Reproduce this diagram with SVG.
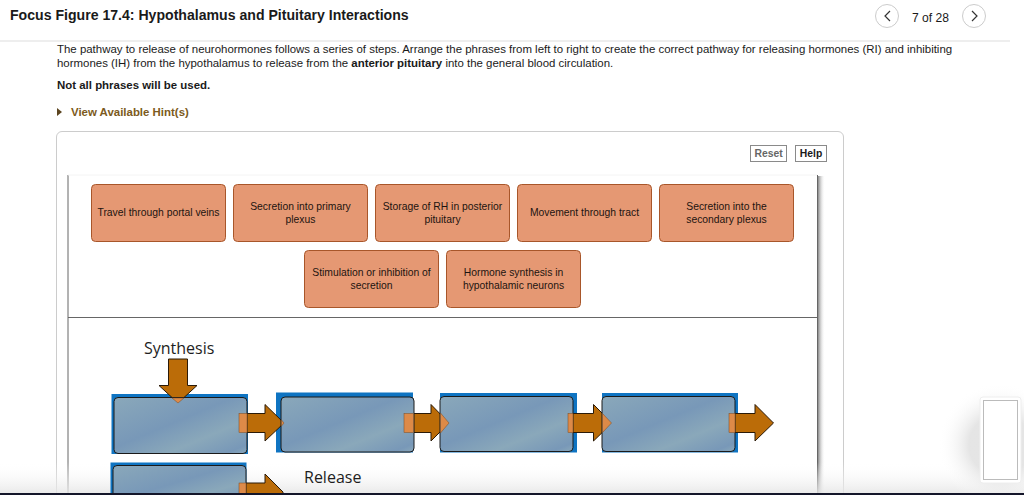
<svg xmlns="http://www.w3.org/2000/svg" width="1024" height="495" viewBox="0 0 1024 495">
<style>
text{font-family:"Liberation Sans",Arial,sans-serif;fill:#1a1a1a}
.b{font-weight:700}
.p{font-size:11.45px}
.c{font-size:10.35px;text-anchor:middle;fill:#1c1410}
.card{fill:#e59873;stroke:#a8562a;stroke-width:1}
.drop{fill:url(#blue);stroke:#1a1a1a;stroke-width:1}
.under{fill:#0f74c2}
.arrow{fill:#bb6c08;stroke:#2a1a08;stroke-width:1}
.tail{fill:#dd8a48;stroke:#7a4a20;stroke-width:.5}
.cal{font-family:"Open Sans","Noto Sans",sans-serif;font-size:16px;fill:#1e1e1e}
.btn{fill:#fff;stroke:#8a8a8a;stroke-width:1}
</style>
<defs>
<linearGradient id="blue" x1="0" y1="0" x2="1" y2="1">
<stop offset="0" stop-color="#8aa8ba"/><stop offset=".45" stop-color="#7898b8"/><stop offset=".7" stop-color="#8aa8ba"/><stop offset=".92" stop-color="#7898b8"/><stop offset="1" stop-color="#8aa8ba"/>
</linearGradient>
<linearGradient id="fade" x1="0" y1="0" x2="0" y2="1"><stop offset="0" stop-color="#fff" stop-opacity="0"/><stop offset="1" stop-color="#e4e4e4" stop-opacity=".9"/></linearGradient>
<radialGradient id="glow" gradientUnits="userSpaceOnUse" cx="1000" cy="445" r="62"><stop offset=".5" stop-color="#e2e2e2" stop-opacity=".9"/><stop offset="1" stop-color="#fff" stop-opacity="0"/></radialGradient>
<linearGradient id="sh" x1="0" y1="0" x2="1" y2="0"><stop offset="0" stop-color="#888"/><stop offset="1" stop-color="#fff" stop-opacity="0"/></linearGradient>
</defs>
<rect width="1024" height="495" fill="#fff"/>
<g id="header">
<text x="10" y="20" class="b" font-size="14.1">Focus Figure 17.4: Hypothalamus and Pituitary Interactions</text>
<circle cx="887" cy="16" r="11.5" fill="#fff" stroke="#ccc"/>
<path d="M890 11l-5 5 5 5" fill="none" stroke="#333" stroke-width="1.2"/>
<text x="912" y="22" font-size="12.1">7 of 28</text>
<circle cx="974" cy="16" r="11.5" fill="#fff" stroke="#ccc"/>
<path d="M972 11l5 5-5 5" fill="none" stroke="#333" stroke-width="1.2"/>
<line x1="0" y1="41" x2="1010" y2="41" stroke="#e8e8e8" stroke-width="1.5"/>
</g>
<g id="instructions">
<text x="57" y="53" class="p">The pathway to release of neurohormones follows a series of steps. Arrange the phrases from left to right to create the correct pathway for releasing hormones (RI) and inhibiting</text>
<text x="57" y="67" class="p">hormones (IH) from the hypothalamus to release from the <tspan class="b">anterior pituitary</tspan> into the general blood circulation.</text>
<text x="57" y="89" class="p b">Not all phrases will be used.</text>
<path d="M57 108l5 4-5 4z" fill="#5c4520"/>
<text x="71" y="116" class="p b" style="fill:#7c5a20">View Available Hint(s)</text>
</g>
<g id="panel">
<path d="M56.500 495V137a5.500 5.500 0 0 1 5.500-5.500H838a5.500 5.500 0 0 1 5.500 5.500V495" fill="#fff" stroke="#ccc"/>
<rect x="818" y="176" width="7" height="319" fill="url(#sh)"/>
<path d="M68 495V175M817.500 175V495" fill="none" stroke="#666"/>
<line x1="68" y1="175" x2="817" y2="175" stroke="#f4f4f4"/>
<line x1="68" y1="317.500" x2="817" y2="317.500" stroke="#666"/>
</g>
<rect x="0" y="462" width="1024" height="33" fill="url(#fade)"/>
<rect x="930" y="380" width="94" height="115" fill="url(#glow)"/>
<g id="reset">
<rect x="750.500" y="145.500" width="36" height="16" class="btn"/>
<text x="768.500" y="157" class="c b" style="fill:#666">Reset</text>
</g>
<g id="help">
<rect x="795.500" y="145.500" width="31" height="16" class="btn"/>
<text x="811" y="157" class="c b" style="fill:#1a1a1a">Help</text>
</g>
<g id="card-travel"><rect x="91.500" y="184.500" width="134" height="57" rx="4" class="card"/><text x="158.500" y="216" class="c">Travel through portal veins</text></g>
<g id="card-primary"><rect x="233.500" y="184.500" width="134" height="57" rx="4" class="card"/><text x="300.500" y="210" class="c">Secretion into primary</text><text x="300.500" y="222.500" class="c">plexus</text></g>
<g id="card-storage"><rect x="375.500" y="184.500" width="134" height="57" rx="4" class="card"/><text x="442.500" y="210" class="c">Storage of RH in posterior</text><text x="442.500" y="222.500" class="c">pituitary</text></g>
<g id="card-movement"><rect x="517.500" y="184.500" width="134" height="57" rx="4" class="card"/><text x="584.500" y="216" class="c">Movement through tract</text></g>
<g id="card-secondary"><rect x="659.500" y="184.500" width="134" height="57" rx="4" class="card"/><text x="726.500" y="210" class="c">Secretion into the</text><text x="726.500" y="222.500" class="c">secondary plexus</text></g>
<g id="card-stimulation"><rect x="304.500" y="250.500" width="134" height="57" rx="4" class="card"/><text x="371.500" y="276" class="c">Stimulation or inhibition of</text><text x="371.500" y="288.500" class="c">secretion</text></g>
<g id="card-synthesis"><rect x="446.500" y="250.500" width="134" height="57" rx="4" class="card"/><text x="513.500" y="276" class="c">Hormone synthesis in</text><text x="513.500" y="288.500" class="c">hypothalamic neurons</text></g>
<g id="label-synthesis"><text x="144" y="353.500" class="cal">Synthesis</text></g>
<g id="label-release"><text x="304" y="482.500" class="cal">Release</text></g>
<g id="drop-highlights">
<rect x="111.500" y="394" width="136.500" height="60" class="under"/>
<rect x="276" y="392.500" width="137" height="60" class="under"/>
<rect x="440" y="393" width="137" height="59.500" class="under"/>
<rect x="602" y="393" width="136" height="59.500" class="under"/>
<rect x="110.500" y="462.500" width="136" height="33" class="under"/>
</g>
<g id="connectors">
<path class="arrow" d="M168.500 359H187.500V385.500H197L178 403L159 385.500H168.500Z"/>
<path class="arrow" d="M239 413.500H265V404.500L284 423L265 441V432.500H239Z"/>
<path class="arrow" d="M404 413.500H431V404.500L449 423L431 441V432.500H404Z"/>
<path class="arrow" d="M568 413.500H593.500V404.500L612 423L593.500 441V432.500H568Z"/>
<path class="arrow" d="M729 413.500H755V404.500L773.500 423L755 441V432.500H729Z"/>
<path class="arrow" d="M239 483H265V474L283 492V495H239Z"/>
</g>
<g id="drop-1"><rect x="114" y="397.500" width="133" height="56" rx="4" class="drop"/></g>
<g id="drop-2"><rect x="281" y="397" width="133" height="55" rx="4" class="drop"/></g>
<g id="drop-3"><rect x="440" y="396.500" width="133" height="55" rx="4" class="drop"/></g>
<g id="drop-4"><rect x="602" y="396.500" width="133" height="55" rx="4" class="drop"/></g>
<g id="drop-5"><rect x="113" y="465.500" width="133" height="40" rx="4" class="drop"/></g>
<g id="tails">
<rect x="239" y="413.500" width="8" height="19" class="tail"/>
<rect x="404" y="413.500" width="9.500" height="19" class="tail"/>
<rect x="568" y="413.500" width="5" height="19" class="tail"/>
<rect x="729" y="413.500" width="6" height="19" class="tail"/>
<rect x="239" y="483" width="7" height="12" class="tail"/>
<path d="M281.500 420L284 423L281.500 426Z" class="tail"/>
<path d="M440.500 413L449 423L440.500 433Z" class="tail"/>
<path d="M602.500 413.500L611.500 423L602.500 432.500Z" class="tail"/>
<path d="M172 398H184L178 403Z" class="tail"/>
</g>
<g id="scroll-thumb">
<rect x="980" y="397" width="41" height="86" rx="3" fill="#fff" stroke="#eee"/>
<rect x="983.500" y="400.500" width="34" height="79" fill="#fff" stroke="#bbb"/>
</g>
<line x1="0" y1="494" x2="1024" y2="494" stroke="#14162a" stroke-width="2"/>
</svg>
